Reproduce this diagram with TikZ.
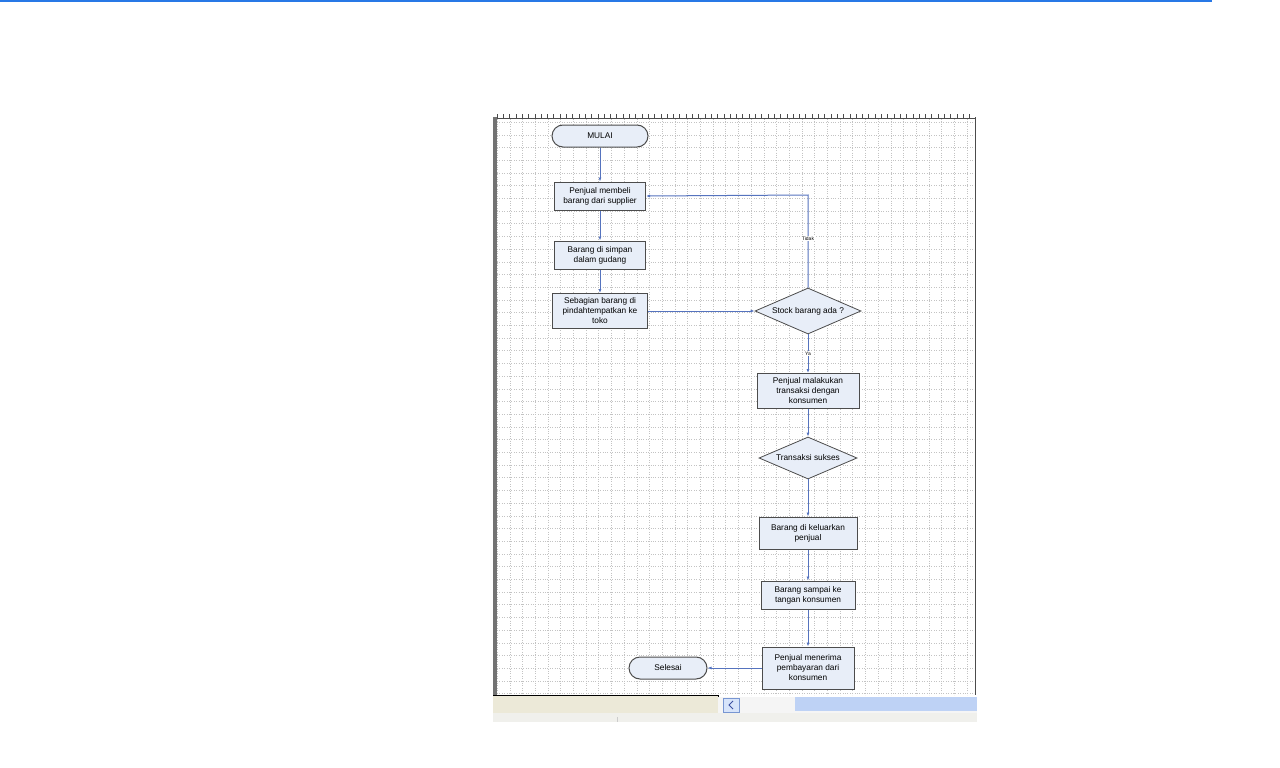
\documentclass[tikz,border=0pt]{standalone}
\usepackage{fontspec}
\setmainfont{Liberation Sans}
\usetikzlibrary{shapes.geometric,arrows.meta}
\definecolor{lnk}{RGB}{85,115,190}
\definecolor{nfill}{RGB}{232,238,248}
\definecolor{gridc}{RGB}{195,195,195}
\tikzset{
 x=1pt,y=-1pt,
 proc/.style={draw=black!70,line width=1pt,fill=nfill,align=center,font=\fontsize{8.3}{10}\selectfont,inner sep=1pt},
 term/.style={proc,rounded corners=11pt},
 dec/.style={draw=black!70,line width=0.8pt,fill=nfill,diamond,aspect=2.3,font=\fontsize{8.3}{10}\selectfont,inner sep=0pt},
 link/.style={draw=lnk,line width=1pt,-{Latex[length=4pt,width=3pt]}},
 lbl/.style={font=\fontsize{5}{6}\selectfont,fill=white,inner sep=0.5pt}
}
\begin{document}
\begin{tikzpicture}
\useasboundingbox (0,0) rectangle (1280,768);
\fill[white] (0,0) rectangle (1280,768);
\draw[color={rgb,255:red,40;green,120;blue,230},line width=1.5pt] (0,1) -- (1212,1);
% canvas
\foreach \x in {497,509.7,...,975} \draw[gridc,dotted,line width=0.4pt] (\x,119) -- (\x,695);
\foreach \y in {122,134.7,...,695} \draw[gridc,dotted,line width=0.4pt] (497,\y) -- (975,\y);
\foreach \x in {497,503.3,...,975} \draw[black!70,line width=0.5pt] (\x,114) -- (\x,118);
\draw[black!70,line width=0.5pt] (497,118) -- (975,118);
\fill[black!55] (493,117) rectangle (497,695);
\draw[black!70,line width=1pt] (975,117) -- (975,695);
\fill[color={rgb,255:red,236;green,233;blue,216}] (493,695) rectangle (718,718);
\draw[black,line width=0.8pt] (493,695) -- (718,695) -- (718,712);
\fill[color={rgb,255:red,245;green,245;blue,245}] (718,697) rectangle (977,713);
\fill[color={rgb,255:red,190;green,210;blue,245}] (795,697) rectangle (977,711);
\draw[color={rgb,255:red,120;green,150;blue,210},fill={rgb,255:red,215;green,228;blue,250}] (723,698) rectangle (739,712);
\draw[color={rgb,255:red,60;green,80;blue,160},line width=1pt] (733,701) -- (729,705) -- (733,709);
\fill[color={rgb,255:red,240;green,240;blue,236}] (493,713) rectangle (977,722);
\draw[black!20] (617,717) -- (617,722);
% nodes
\node[term,minimum width=96pt,minimum height=22pt] (start) at (600,136) {MULAI};
\node[proc,minimum width=91pt,minimum height=28pt] (beli) at (600,196) {Penjual membeli\\barang dari supplier};
\node[proc,minimum width=91pt,minimum height=28pt] (simpan) at (600,255) {Barang di simpan\\dalam gudang};
\node[proc,minimum width=95pt,minimum height=35pt] (pindah) at (600,311) {Sebagian barang di\\pindahtempatkan ke\\toko};
\node[dec,minimum width=106pt,minimum height=46pt] (stock) at (808,311) {Stock barang ada ?};
\node[proc,minimum width=102pt,minimum height=35pt] (trans) at (808,391) {Penjual malakukan\\transaksi dengan\\konsumen};
\node[dec,minimum width=98pt,minimum height=42pt] (sukses) at (808,458) {Transaksi sukses};
\node[proc,minimum width=98pt,minimum height=32pt] (keluar) at (808,533) {Barang di keluarkan\\penjual};
\node[proc,minimum width=94pt,minimum height=28pt] (sampai) at (808,595) {Barang sampai ke\\tangan konsumen};
\node[proc,minimum width=92pt,minimum height=42pt] (terima) at (808,668) {Penjual menerima\\pembayaran dari\\konsumen};
\node[term,minimum width=78pt,minimum height=22pt] (selesai) at (668,668) {Selesai};
% links
\draw[link] (start) -- (beli);
\draw[link] (beli) -- (simpan);
\draw[link] (simpan) -- (pindah);
\draw[link] (pindah) -- (stock);
\draw[link] (stock.north) -- (808,195) node[lbl,pos=0.53] {Tidak} -- (beli.east);
\draw[link] (stock) -- node[lbl] {Ya} (trans);
\draw[link] (trans) -- (sukses);
\draw[link] (sukses) -- (keluar);
\draw[link] (keluar) -- (sampai);
\draw[link] (sampai) -- (terima);
\draw[link] (terima) -- (selesai);
\end{tikzpicture}
\end{document}
